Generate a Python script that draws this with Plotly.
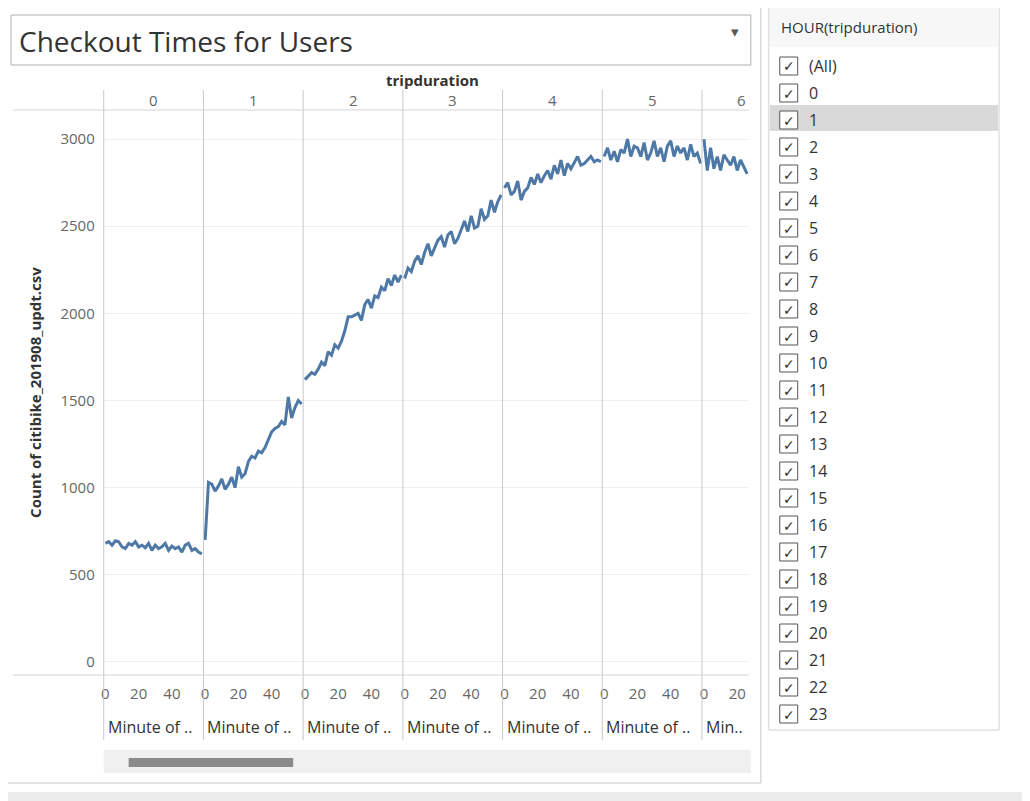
import plotly.graph_objects as go

W, H = 1030, 801
OFF = 8  # page body margin

hours = [0, 1, 2, 3, 4, 5, 6]
minute_ticks = [0, 20, 40]
y_ticks = [0, 500, 1000, 1500, 2000, 2500, 3000]

# counts per hour panel, sampled every 2 minutes
h0 = [680, 690, 670, 695, 690, 660, 650, 680, 670, 690, 660, 670, 655, 680, 640,
      670, 650, 660, 680, 640, 665, 650, 660, 630, 670, 680, 640, 650, 630, 620]
h1 = [700, 1030, 1020, 980, 1010, 1050, 990, 1020, 1060, 1000, 1120, 1060, 1080, 1150, 1180,
      1170, 1210, 1200, 1230, 1280, 1320, 1340, 1350, 1380, 1360, 1520, 1400, 1460, 1500, 1480]
h2 = [1620, 1640, 1660, 1650, 1680, 1720, 1700, 1780, 1760, 1820, 1800, 1840, 1900, 1980, 1980,
      1990, 2000, 1960, 2050, 2080, 2030, 2100, 2090, 2150, 2130, 2200, 2160, 2220, 2180, 2220]
h3 = [2200, 2260, 2240, 2300, 2330, 2280, 2350, 2400, 2330, 2380, 2420, 2440, 2380, 2450, 2470,
      2400, 2430, 2480, 2530, 2470, 2560, 2490, 2500, 2600, 2540, 2560, 2650, 2580, 2640, 2680]
h4 = [2720, 2750, 2680, 2700, 2760, 2650, 2700, 2720, 2780, 2740, 2800, 2750, 2790, 2820, 2770,
      2850, 2800, 2880, 2790, 2860, 2830, 2870, 2900, 2850, 2860, 2880, 2900, 2870, 2880, 2870]
h5 = [2900, 2950, 2880, 2930, 2870, 2940, 2920, 3000, 2900, 2960, 2950, 2900, 2980, 2880, 2920,
      2990, 2900, 2950, 2870, 2960, 2990, 2900, 2960, 2920, 2950, 2880, 2970, 2900, 2920, 2860]
h6 = [3000, 2820, 2950, 2830, 2900, 2820, 2910, 2880, 2850, 2900, 2820, 2880, 2840, 2800]
panels = [h0, h1, h2, h3, h4, h5, h6]

filter_items = ["(All)"] + [str(i) for i in range(24)]

FONT = "Open Sans, DejaVu Sans"


def px(x):
    return (x - OFF) / W


def py(y):
    return 1 - (y - OFF) / H


xs, ys = [], []
for hr, vals in zip(hours, panels):
    for i, v in enumerate(vals):
        xs.append(hr * 60 + i * 2)
        ys.append(v)
    xs.append(None)
    ys.append(None)

fig = go.Figure(go.Scatter(x=xs, y=ys, mode="lines",
                           line=dict(color="#4e79a7", width=3), connectgaps=False))

tickvals = [hr * 60 + m for hr in hours for m in minute_ticks if hr * 60 + m < 388]
ticktext = [str(v % 60) for v in tickvals]

fig.update_layout(
    width=W, height=H, margin=dict(l=0, r=0, t=0, b=0),
    paper_bgcolor="white", plot_bgcolor="white", showlegend=False,
    font=dict(family=FONT, color="#666"),
    xaxis=dict(domain=[px(101), px(748)], range=[-1, 387], tickvals=tickvals, ticktext=ticktext,
               showgrid=False, zeroline=False, tickfont=dict(size=15, color="#666"),
               ticks="", ticklabelstandoff=8),
    yaxis=dict(domain=[py(675), py(110)], range=[-75, 3167], tickvals=y_ticks,
               gridcolor="#efefef", zeroline=False, tickfont=dict(size=15, color="#666"),
               ticks="", ticklabelstandoff=8),
)

shapes = []
annotations = []


def line(x0, y0, x1, y1, color="#c8c8c8"):
    shapes.append(dict(type="line", xref="paper", yref="paper", x0=px(x0), x1=px(x1),
                       y0=py(y0), y1=py(y1), line=dict(color=color, width=1)))


def rect(x0, y0, x1, y1, fill=None, border=None):
    shapes.append(dict(type="rect", xref="paper", yref="paper", x0=px(x0), x1=px(x1),
                       y0=py(y1), y1=py(y0), fillcolor=fill,
                       line=dict(color=border or "rgba(0,0,0,0)", width=1 if border else 0)))


def text(t, x, y, size, color="#333", xanchor="center", angle=0):
    annotations.append(dict(text=t, x=px(x), y=py(y), xref="paper", yref="paper",
                            xanchor=xanchor, yanchor="middle", textangle=angle, showarrow=False,
                            font=dict(size=size, color=color, family=FONT)))


# hour dividers
for hr in hours:
    line(101 + hr * 100, 740, 101 + hr * 100, 90)
for yy in [110, 675]:
    line(10, yy, 748, yy, "#d4d4d4")
# title box
rect(8, 15, 750, 65, border="#b0b0b0")
# outer frame
line(760, 5, 760, 783)
line(0, 783, 760, 783)
rect(0, 792, 1040, 810, fill="#ececec")
# scrollbar
rect(101, 750, 750, 773, fill="#f0f0f0")
rect(126, 758, 291, 767, fill="#8a8a8a")
# filter card
rect(768, 5, 999, 730, border="#d4d4d4")
rect(769, 6, 998, 47, fill="#f7f7f7")
rect(769, 105, 998, 131, fill="#d9d9d9")

text("Checkout Times for Users", 14, 41, 28, xanchor="left")
text("▾", 734, 31, 15, "#555")
text("<b>tripduration</b>", 431, 80, 15)
text("<b>Count of citibike_201908_updt.csv</b>", 32, 392, 15, angle=-90)
for hr in hours:
    text(str(hr), 151 + hr * 100 if hr < 6 else 741, 100, 15, "#666")
    text("Minute of .." if hr < 6 else "Min..", 103 + hr * 100, 727, 16, xanchor="left")
text("HOUR(tripduration)", 778, 27, 15, xanchor="left")
for i, item in enumerate(filter_items):
    yc = 66 + i * 27
    rect(779, yc - 9, 797, yc + 9, fill="white", border="#555")
    text("✓", 788, yc, 14, "#333")
    text(item, 806, yc, 16, xanchor="left")

fig.update_layout(shapes=shapes, annotations=annotations)
fig.write_html("out.html")
